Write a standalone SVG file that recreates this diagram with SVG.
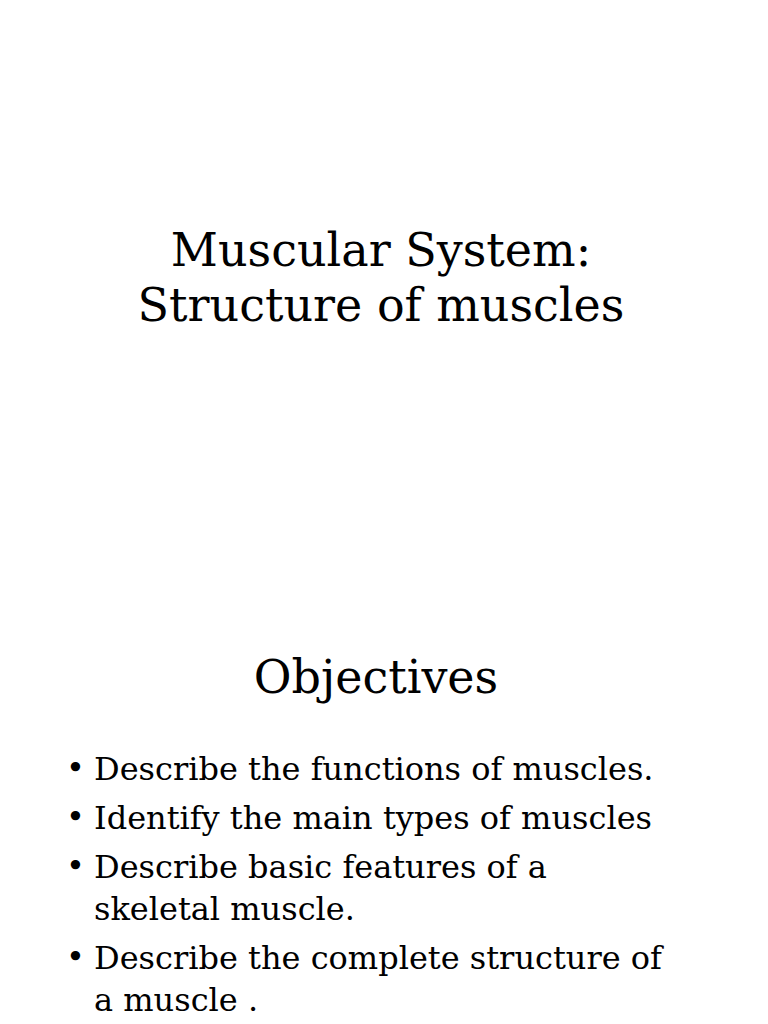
<svg xmlns="http://www.w3.org/2000/svg" width="768" height="1024" viewBox="0 0 768 1024">
<style>
text{font-family:"DejaVu Serif","Liberation Serif",serif;fill:#000}
.t{font-size:46px;text-anchor:middle}
.b{font-size:32px}
</style>
<rect width="768" height="1024" fill="#fff"/>
<g id="title">
<text class="t" x="381" y="266">Muscular System:</text>
<text class="t" x="381" y="321">Structure of muscles</text>
</g>
<g id="objectives">
<text class="t" x="376" y="693">Objectives</text>
<text class="b" x="66" y="779">•</text><text class="b" x="94" y="780">Describe the functions of muscles.</text>
<text class="b" x="66" y="828">•</text><text class="b" x="94" y="829">Identify the main types of muscles</text>
<text class="b" x="66" y="877">•</text><text class="b" x="94" y="878">Describe basic features of a</text>
<text class="b" x="94" y="920">skeletal muscle.</text>
<text class="b" x="66" y="968">•</text><text class="b" x="94" y="969">Describe the complete structure of</text>
<text class="b" x="94" y="1011">a muscle .</text>
</g>
</svg>
